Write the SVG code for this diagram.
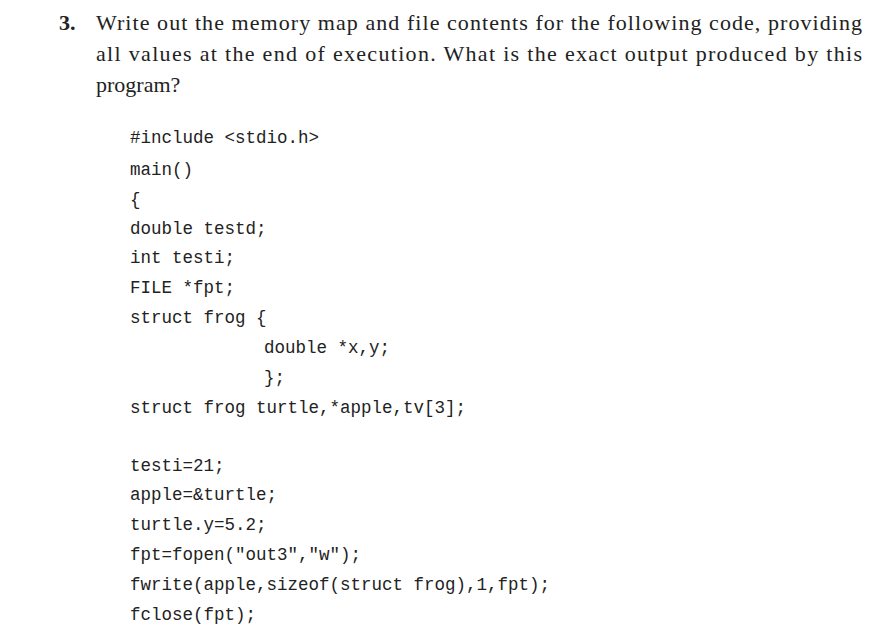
<svg xmlns="http://www.w3.org/2000/svg" width="890" height="644" viewBox="0 0 890 644">
<style>
.h{font-family:"Liberation Serif",serif;font-size:22px;fill:#222}
.c{font-family:"Liberation Mono",monospace;font-size:17.5px;fill:#222}
</style>
<rect width="890" height="644" fill="#fff"/>
<text class="h" x="59" y="30" font-weight="bold">3.</text>
<text class="h" x="96" y="30" textLength="766" lengthAdjust="spacing">Write out the memory map and file contents for the following code, providing</text>
<text class="h" x="96" y="61" textLength="766" lengthAdjust="spacing">all values at the end of execution. What is the exact output produced by this</text>
<text class="h" x="96" y="92">program?</text>
<g class="c">
<text x="130" y="143">#include &lt;stdio.h&gt;</text>
<text x="130" y="175">main()</text>
<text x="130" y="205">{</text>
<text x="130" y="234">double testd;</text>
<text x="130" y="263">int testi;</text>
<text x="130" y="293">FILE *fpt;</text>
<text x="130" y="323">struct frog {</text>
<text x="264" y="353">double *x,y;</text>
<text x="264" y="383">};</text>
<text x="130" y="413">struct frog turtle,*apple,tv[3];</text>
<text x="130" y="471">testi=21;</text>
<text x="130" y="500">apple=&amp;turtle;</text>
<text x="130" y="530">turtle.y=5.2;</text>
<text x="130" y="560">fpt=fopen("out3","w");</text>
<text x="130" y="590">fwrite(apple,sizeof(struct frog),1,fpt);</text>
<text x="130" y="620">fclose(fpt);</text>
</g>
</svg>
